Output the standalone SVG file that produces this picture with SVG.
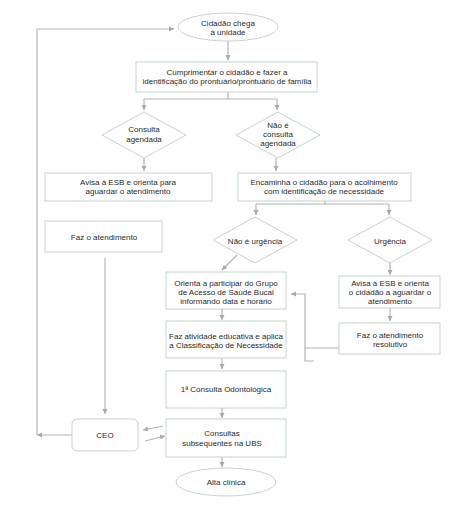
<svg xmlns="http://www.w3.org/2000/svg" width="474" height="505" viewBox="0 0 474 505">
<defs>
<marker id="ah" markerUnits="userSpaceOnUse" markerWidth="6" markerHeight="6" refX="5" refY="3" orient="auto">
<path d="M0,0.5 L5,3 L0,5.5 z" fill="#a8a8a8"/>
</marker>
<style>
.n{fill:#fff;stroke:#c3d3cc;stroke-width:1}
.c{fill:none;stroke:#b4b4b4;stroke-width:1.2}
.a{marker-end:url(#ah)}
text{font-family:"Liberation Sans",Arial,sans-serif;font-size:8px;fill:#2a2a2a;text-anchor:middle}
</style>
</defs>
<rect width="474" height="505" fill="#fff"/>
<g id="connectors">
<path class="c a" d="M228,41 V60"/>
<path class="c" d="M228,92 V99 M144,99 H277"/>
<path class="c a" d="M144,99 V110"/>
<path class="c a" d="M277,99 V110"/>
<path class="c a" d="M144,158 V171"/>
<path class="c a" d="M276,158 V171"/>
<path class="c" d="M325,201 V204 M256,204 H389"/>
<path class="c a" d="M256,204 V215"/>
<path class="c a" d="M389,204 V215"/>
<path class="c a" d="M105,258 V414"/>
<path class="c a" d="M237,255 L222,270"/>
<path class="c a" d="M222,309 V320"/>
<path class="c a" d="M222,358 V369"/>
<path class="c a" d="M222,408 V418"/>
<path class="c a" d="M222,457 V467"/>
<path class="c a" d="M390,263 V275"/>
<path class="c a" d="M390,308 V321"/>
<path class="c" d="M339,348 H305"/>
<path class="c a" d="M314,361 H305 V294 H291"/>
<path class="c a" d="M163,426 L143,430"/>
<path class="c a" d="M145,441 L165,436"/>
<path class="c a" d="M72,435 H37"/>
<path class="c a" d="M37,435 V29 H174"/>
</g>
<g id="n1"><ellipse class="n" cx="228" cy="27" rx="50" ry="14"/><text x="228" y="26">Cidadão chega</text><text x="228" y="35">à unidade</text></g>
<g id="n2"><rect class="n" x="136" y="62" width="181" height="30"/><text x="227" y="75">Cumprimentar o cidadão e fazer a</text><text x="227" y="84">identificação do prontuário/prontuário de família</text></g>
<g id="d1"><polygon class="n" points="144,112 186,135 144,158 102,135"/><text x="144" y="132">Consulta</text><text x="144" y="142">agendada</text></g>
<g id="d2"><polygon class="n" points="278,112 320,135 278,158 236,135"/><text x="278" y="128">Não é</text><text x="278" y="137">consulta</text><text x="278" y="146">agendada</text></g>
<g id="n3"><rect class="n" x="45" y="173" width="167" height="28"/><text x="128" y="185">Avisa à ESB e orienta para</text><text x="128" y="194">aguardar o atendimento</text></g>
<g id="n4"><rect class="n" x="238" y="173" width="173" height="28"/><text x="324" y="185">Encaminha o cidadão para o acolhimento</text><text x="324" y="194">com identificação de necessidade</text></g>
<g id="n5"><rect class="n" x="45" y="221" width="117" height="31"/><text x="104" y="240">Faz o atendimento</text></g>
<g id="d3"><polygon class="n" points="255,217 297,240 255,263 213,240"/><text x="255" y="244">Não é urgência</text></g>
<g id="d4"><polygon class="n" points="390,217 432,240 390,263 348,240"/><text x="390" y="244">Urgência</text></g>
<g id="n6"><rect class="n" x="166" y="272" width="120" height="37"/><text x="226" y="286">Orienta a participar do Grupo</text><text x="226" y="295">de Acesso de Saúde Bucal</text><text x="226" y="304">informando data e horário</text></g>
<g id="n7"><rect class="n" x="166" y="321" width="120" height="37"/><text x="226" y="339">Faz atividade educativa e aplica</text><text x="226" y="348">a Classificação de Necessidade</text></g>
<g id="n8"><rect class="n" x="339" y="276" width="101" height="32"/><text x="390" y="286">Avisa à ESB e orienta</text><text x="390" y="295">o cidadão a aguardar o</text><text x="390" y="304">atendimento</text></g>
<g id="n9"><rect class="n" x="339" y="323" width="101" height="31"/><text x="390" y="338">Faz o atendimento</text><text x="390" y="347">resolutivo</text></g>
<g id="n10"><rect class="n" x="166" y="371" width="120" height="37"/><text x="226" y="392">1ª  Consulta Odontológica</text></g>
<g id="n11"><rect class="n" x="166" y="419" width="120" height="38"/><text x="222" y="436">Consultas</text><text x="222" y="446">subsequentes na UBS</text></g>
<g id="n12"><rect class="n" x="72" y="419" width="66" height="32" rx="5"/><text x="105" y="438">CEO</text></g>
<g id="n13"><ellipse class="n" cx="226" cy="482" rx="50" ry="14"/><text x="226" y="485">Alta clínica</text></g>
</svg>
